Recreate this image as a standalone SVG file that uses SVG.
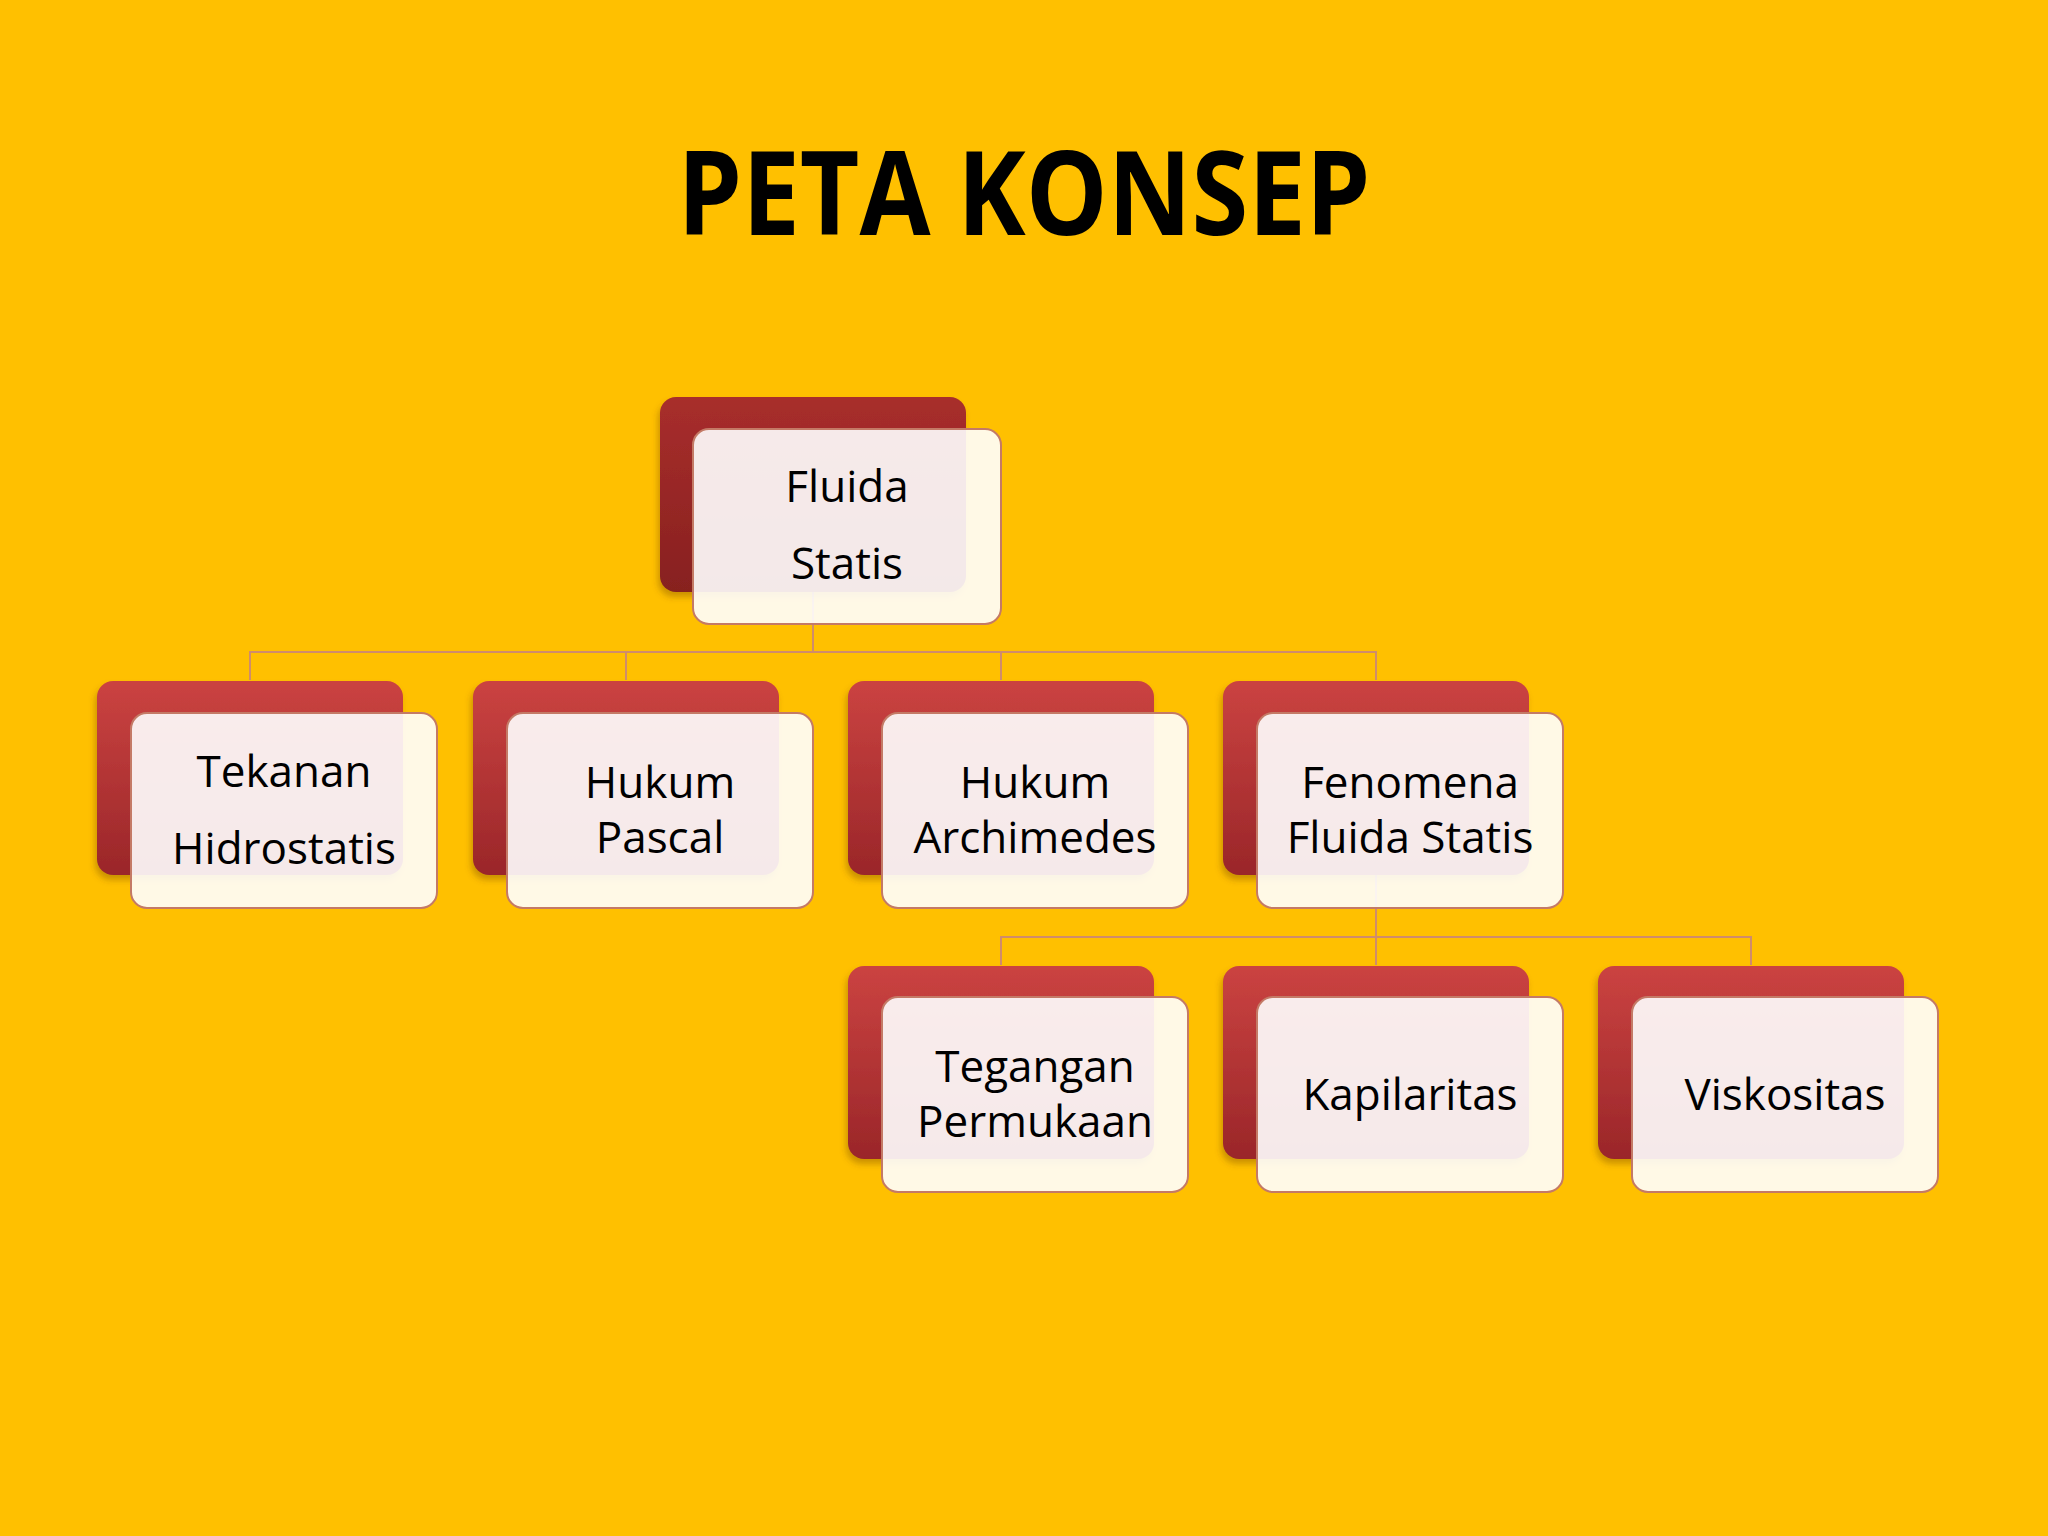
<svg xmlns="http://www.w3.org/2000/svg" width="2048" height="1536" viewBox="0 0 2048 1536">
<defs>
<linearGradient id="gBack" x1="0" y1="0" x2="0" y2="1">
<stop offset="0" stop-color="#CB4341"/>
<stop offset="1" stop-color="#9A2629"/>
</linearGradient>
<linearGradient id="gRoot" x1="0" y1="0" x2="0" y2="1">
<stop offset="0" stop-color="#A82E2C"/>
<stop offset="1" stop-color="#87201F"/>
</linearGradient>
<filter id="sh" x="-10%" y="-10%" width="120%" height="130%">
<feDropShadow dx="-2" dy="5" stdDeviation="3" flood-color="#6a3a00" flood-opacity="0.35"/>
</filter>
</defs>
<style>
.back{fill:url(#gBack);filter:url(#sh)}
.rootback{fill:url(#gRoot);filter:url(#sh)}
.front{fill:#FFFFFF;fill-opacity:0.9;stroke:#C47A66;stroke-width:2}
.lbl{font-family:"Open Sans","Noto Sans",sans-serif;font-size:44px;fill:#000;text-anchor:middle}
.conn{fill:none;stroke:#CF8C6C;stroke-width:2}
.title{font-family:"Open Sans","Noto Sans",sans-serif;font-weight:bold;font-size:116px;fill:#000;text-anchor:middle}
</style>
<rect x="0" y="0" width="2048" height="1536" fill="#FFC000"/>
<text class="title" x="1024" y="235" textLength="693" lengthAdjust="spacingAndGlyphs">PETA KONSEP</text>
<g id="connectors">
<path class="conn" d="M813,592 V652 M250,680 V652 H1376 V680 M626,652 V680 M1001,652 V680"/>
<path class="conn" d="M1376,875 V937 M1001,965 V937 H1751 V965 M1376,937 V965"/>
</g>
<g id="node-fluida-statis">
<rect class="rootback" x="660" y="397" width="306" height="195" rx="16"/>
<rect class="front" x="693" y="429" width="308" height="195" rx="16"/>
<text class="lbl" x="847" y="502">Fluida</text>
<text class="lbl" x="847" y="579">Statis</text>
</g>
<g id="node-tekanan-hidrostatis">
<rect class="back" x="97" y="681" width="306" height="194" rx="16"/>
<rect class="front" x="131" y="713" width="306" height="195" rx="16"/>
<text class="lbl" x="284" y="787">Tekanan</text>
<text class="lbl" x="284" y="864">Hidrostatis</text>
</g>
<g id="node-hukum-pascal">
<rect class="back" x="473" y="681" width="306" height="194" rx="16"/>
<rect class="front" x="507" y="713" width="306" height="195" rx="16"/>
<text class="lbl" x="660" y="798">Hukum</text>
<text class="lbl" x="660" y="853">Pascal</text>
</g>
<g id="node-hukum-archimedes">
<rect class="back" x="848" y="681" width="306" height="194" rx="16"/>
<rect class="front" x="882" y="713" width="306" height="195" rx="16"/>
<text class="lbl" x="1035" y="798">Hukum</text>
<text class="lbl" x="1035" y="853">Archimedes</text>
</g>
<g id="node-fenomena-fluida-statis">
<rect class="back" x="1223" y="681" width="306" height="194" rx="16"/>
<rect class="front" x="1257" y="713" width="306" height="195" rx="16"/>
<text class="lbl" x="1410" y="798">Fenomena</text>
<text class="lbl" x="1410" y="853">Fluida Statis</text>
</g>
<g id="node-tegangan-permukaan">
<rect class="back" x="848" y="966" width="306" height="193" rx="16"/>
<rect class="front" x="882" y="997" width="306" height="195" rx="16"/>
<text class="lbl" x="1035" y="1082">Tegangan</text>
<text class="lbl" x="1035" y="1137">Permukaan</text>
</g>
<g id="node-kapilaritas">
<rect class="back" x="1223" y="966" width="306" height="193" rx="16"/>
<rect class="front" x="1257" y="997" width="306" height="195" rx="16"/>
<text class="lbl" x="1410" y="1110">Kapilaritas</text>
</g>
<g id="node-viskositas">
<rect class="back" x="1598" y="966" width="306" height="193" rx="16"/>
<rect class="front" x="1632" y="997" width="306" height="195" rx="16"/>
<text class="lbl" x="1785" y="1110">Viskositas</text>
</g>
</svg>
